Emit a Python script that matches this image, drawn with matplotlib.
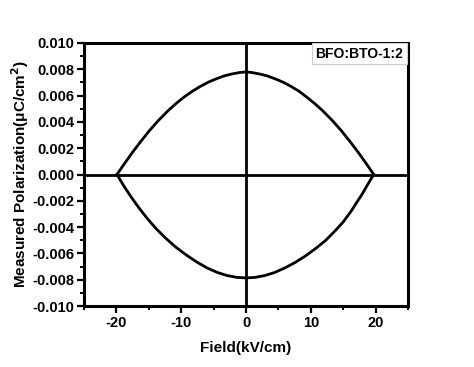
import matplotlib
matplotlib.use("Agg")
import matplotlib.pyplot as plt
from matplotlib.ticker import MultipleLocator, FormatStrFormatter

plt.rcParams['font.family'] = ['Liberation Sans', 'DejaVu Sans']
plt.rcParams['font.weight'] = 'bold'
plt.rcParams['axes.unicode_minus'] = False

field_up = [-19.9, -18.7, -17.5, -16.2, -14.9, -13.5, -12.0, -10.8, -9.6, -8.3, -7.0, -5.8, -4.6, -3.4, -2.2, -1.0, 0.0,
            0.9, 2.1, 3.3, 4.5, 5.7, 6.9, 8.2, 9.4, 10.6, 11.8, 13.3, 14.7, 16.0, 17.3, 18.5, 19.7]
pol_up = [0.0, 0.00086, 0.00169, 0.00253, 0.00333, 0.00411, 0.00486, 0.00539, 0.00587, 0.00632, 0.00671, 0.00702,
          0.00727, 0.00749, 0.00764, 0.00775, 0.0078,
          0.00775, 0.00764, 0.00749, 0.00727, 0.00702, 0.00671, 0.00632, 0.00587, 0.00539, 0.00486, 0.00411,
          0.00333, 0.00253, 0.00169, 0.00086, 0.0]

field_down = [19.7, 19.2, 18.6, 17.9, 17.1, 16.2, 15.0, 13.7, 12.3, 10.8, 9.2, 7.6, 6.0, 4.4, 2.9, 1.4, 0.0,
              -1.4, -2.9, -4.4, -6.0, -7.6, -9.2, -10.8, -12.3, -13.8, -15.2, -16.5, -17.7, -18.8, -19.9]
pol_down = [0.0, -0.0004, -0.0009, -0.0015, -0.0021, -0.0028, -0.0036, -0.0043, -0.0050, -0.0056, -0.00618, -0.00668,
            -0.00710, -0.00745, -0.00768, -0.00782, -0.00786,
            -0.00782, -0.00768, -0.00745, -0.00710, -0.00665, -0.00612, -0.00553, -0.00488, -0.00415, -0.00336,
            -0.00254, -0.00172, -0.0009, 0.0]

label_text = "BFO:BTO-1:2"

fig = plt.figure(figsize=(4.74, 3.67), dpi=100)
ax = fig.add_axes([0.177, 0.166, 0.684, 0.717])

ax.axhline(0, color='black', lw=2.0, zorder=1)
ax.axvline(0, color='black', lw=2.0, zorder=1)
ax.plot(field_up, pol_up, color='black', lw=2.0, solid_joinstyle='round')
ax.plot(field_down, pol_down, color='black', lw=2.0, solid_joinstyle='round')

ax.set_xlim(-25, 25)
ax.set_ylim(-0.010, 0.010)
ax.xaxis.set_major_locator(MultipleLocator(10))
ax.xaxis.set_minor_locator(MultipleLocator(5))
ax.yaxis.set_major_locator(MultipleLocator(0.002))
ax.yaxis.set_minor_locator(MultipleLocator(0.001))
ax.yaxis.set_major_formatter(FormatStrFormatter('%.3f'))

for s in ax.spines.values():
    s.set_linewidth(2.2)
ax.tick_params(which='major', direction='out', length=5, width=1.6, labelsize=10.5, top=False, right=False, pad=2)
ax.tick_params(which='minor', direction='out', length=3, width=1.4, top=False, right=False)
for lab in ax.get_xticklabels() + ax.get_yticklabels():
    lab.set_fontweight('bold')

ax.set_xlabel("Field(kV/cm)", fontsize=11, fontweight='bold', labelpad=8)
ax.set_ylabel("Measured Polarization(\u03bcC/cm$^\\mathbf{2}$)", fontsize=11, fontweight='bold', labelpad=1)

ax.text(0.985, 0.985, label_text, transform=ax.transAxes, ha='right', va='top', fontsize=10, fontweight='bold',
        bbox=dict(boxstyle='square,pad=0.25', facecolor='white', edgecolor='#cccccc', lw=0.8))

fig.savefig("out.png", dpi=100)
